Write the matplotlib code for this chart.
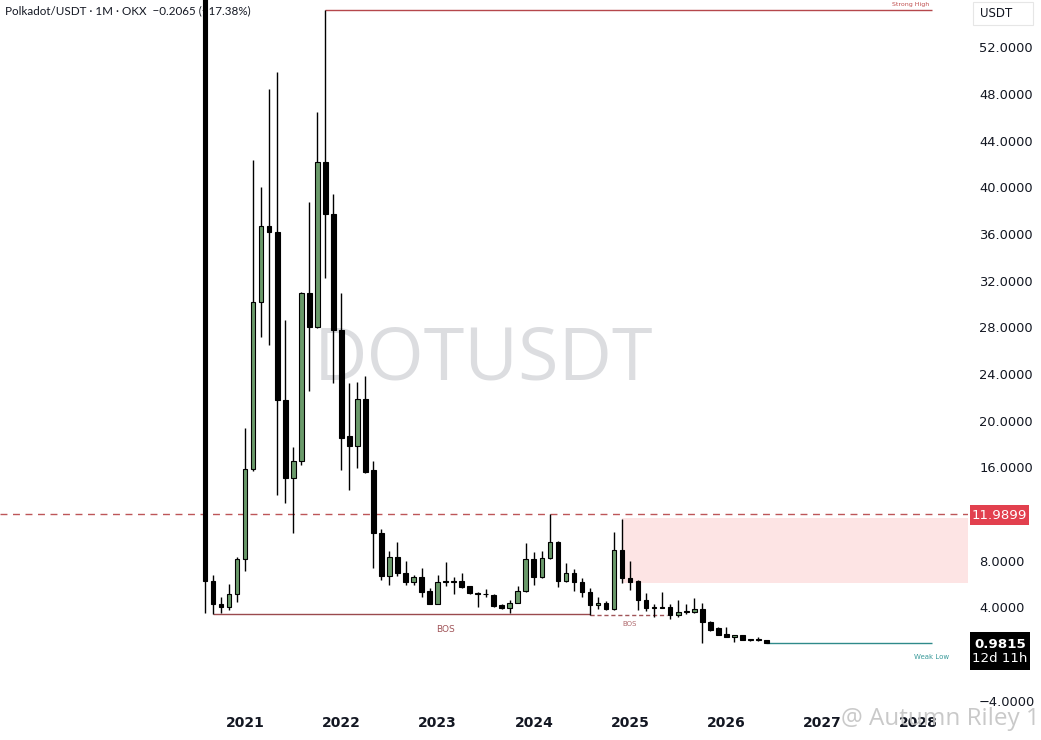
import matplotlib
matplotlib.use("Agg")
import matplotlib.pyplot as plt
from matplotlib.patches import Rectangle
import numpy as np

# ---------------- data ----------------
months = ["2020-08","2020-09","2020-10","2020-11","2020-12",
          "2021-01","2021-02","2021-03","2021-04","2021-05","2021-06","2021-07","2021-08","2021-09","2021-10","2021-11","2021-12",
          "2022-01","2022-02","2022-03","2022-04","2022-05","2022-06","2022-07","2022-08","2022-09","2022-10","2022-11","2022-12",
          "2023-01","2023-02","2023-03","2023-04","2023-05","2023-06","2023-07","2023-08","2023-09","2023-10","2023-11","2023-12",
          "2024-01","2024-02","2024-03","2024-04","2024-05","2024-06","2024-07","2024-08","2024-09","2024-10","2024-11","2024-12",
          "2025-01","2025-02","2025-03","2025-04","2025-05","2025-06","2025-07","2025-08","2025-09","2025-10","2025-11","2025-12",
          "2026-01","2026-02","2026-03","2026-04","2026-05","2026-06"]
opens  = [300.0, 6.26, 4.28, 4.03, 5.14,
          8.14, 15.85, 30.2, 36.7, 36.2, 21.8, 15.1, 16.5, 30.9, 28.0, 42.2, 37.7,
          27.8, 18.7, 17.8, 21.85, 15.8, 10.4, 6.7, 8.3, 6.9, 6.2, 6.6, 5.4,
          4.3, 6.26, 6.17, 6.26, 5.8, 5.2, 5.17, 5.05, 4.2, 3.95, 4.4, 5.4,
          8.1, 6.6, 8.2, 9.6, 6.26, 6.9, 6.2, 5.3, 4.2, 4.4, 3.85, 8.9,
          6.5, 6.26, 4.6, 3.95, 4.0, 4.0, 3.35, 3.6, 3.6, 3.85, 2.75, 2.2,
          1.7, 1.45, 1.6, 1.2, 1.2, 1.188]
highs  = [300.0, 6.77, 4.9, 6.0, 8.3,
          19.4, 42.3, 40.0, 48.4, 49.9, 28.6, 17.7, 31.0, 38.7, 46.4, 55.2, 39.4,
          30.9, 23.2, 23.3, 23.8, 16.5, 10.7, 8.8, 9.6, 8.0, 6.8, 7.4, 5.65,
          6.8, 7.9, 6.6, 6.95, 5.85, 5.3, 5.6, 5.1, 4.25, 4.6, 5.8, 9.5,
          8.75, 8.8, 11.9899, 9.7, 7.8, 7.3, 6.5, 5.65, 4.9, 4.5, 10.45, 11.6,
          8.0, 6.3, 5.2, 4.3, 5.3, 4.3, 4.6, 4.3, 4.8, 4.4, 2.8, 2.3,
          2.3, 1.65, 1.65, 1.3, 1.45, 1.2]
lows   = [3.5, 3.43, 3.5, 3.77, 4.46,
          7.1, 15.7, 27.2, 26.5, 13.6, 12.9, 10.4, 16.2, 22.5, 27.9, 32.2, 23.2,
          15.8, 14.05, 15.9, 15.5, 7.4, 6.3, 5.9, 6.7, 5.9, 5.9, 4.9, 4.25,
          4.25, 5.8, 5.1, 5.65, 5.1, 4.0, 4.9, 4.05, 3.85, 3.5, 4.35, 5.35,
          5.9, 6.55, 8.1, 5.7, 6.2, 5.4, 4.9, 3.35, 3.85, 3.8, 3.75, 6.1,
          5.5, 3.8, 3.7, 3.2, 3.9, 3.0, 3.2, 3.4, 3.55, 0.95, 2.0, 1.6,
          1.45, 1.05, 1.2, 1.15, 1.15, 0.95]
closes = [6.26, 4.28, 4.03, 5.14, 8.14,
          15.85, 30.2, 36.7, 36.2, 21.8, 15.1, 16.5, 30.9, 28.0, 42.2, 37.7, 27.8,
          18.5, 17.8, 21.85, 15.6, 10.4, 6.7, 8.3, 6.9, 6.2, 6.6, 5.3, 4.3,
          6.2, 6.17, 6.22, 5.75, 5.2, 5.17, 5.1, 4.1, 3.95, 4.4, 5.4, 8.1,
          6.6, 8.2, 9.6, 6.26, 6.9, 6.2, 5.3, 4.2, 4.4, 3.85, 8.9, 6.5,
          6.2, 4.6, 3.9, 4.0, 3.97, 3.35, 3.6, 3.62, 3.85, 2.75, 2.05, 1.6,
          1.45, 1.6, 1.2, 1.22, 1.188, 0.9815]

year_labels = ["2021", "2022", "2023", "2024", "2025", "2026", "2027", "2028"]
price_ticks = [52, 48, 44, 40, 36, 32, 28, 24, 20, 16, 8, 4, -4]

strong_high = 55.2
bos_level_1 = 3.43
bos_level_2 = 3.35
weak_low = 0.95
prev_high_line = 11.9899
zone_low, zone_high = 6.05, 11.65
last_price = 0.9815

# ---------------- figure ----------------
W, H = 1041, 740
fig = plt.figure(figsize=(W / 100, H / 100), dpi=100)
ax_right_px = 968
ax_bottom_px = 708
ax = fig.add_axes([0, (H - ax_bottom_px) / H, ax_right_px / W, ax_bottom_px / H])

x = np.arange(len(months))
o = np.array(opens); h = np.array(highs); l = np.array(lows); c = np.array(closes)

x0_px, px_per_month = 205.0, 8.02
xmin = -x0_px / px_per_month
xmax = (ax_right_px - x0_px) / px_per_month
ax.set_xlim(xmin, xmax)
ax.set_ylim(-4.63, 56.04)

up = c >= o
green = "#6a9a6a"
ax.vlines(x, l, h, color="black", linewidth=1.0, zorder=3)
bottoms = np.minimum(o, c)
heights = np.maximum(np.abs(c - o), 0.07)
ax.bar(x[up], heights[up], bottom=bottoms[up], width=0.58, color=green,
       edgecolor="black", linewidth=0.8, zorder=4)
ax.bar(x[~up], heights[~up], bottom=bottoms[~up], width=0.58, color="black",
       edgecolor="black", linewidth=0.8, zorder=4)

# watermark
ax.text(34.7, 23.5, "DOTUSDT", fontsize=53, color="#dcdde0", ha="center", va="baseline",
        zorder=1, family="Open Sans")

# supply zone
zone_start = 52
ax.add_patch(Rectangle((zone_start, zone_low), xmax - zone_start, zone_high - zone_low,
                       facecolor="#fde4e4", edgecolor="none", zorder=1.5))

# dashed level line
ax.axhline(prev_high_line, color="#bd5658", linewidth=1.0, linestyle=(0, (5, 4)), zorder=2)

# strong high
line_end = 90.6
ax.hlines(strong_high, 15, line_end, color="#b5474b", linewidth=1.0, zorder=2)
ax.text(line_end - 0.3, 55.45, "Strong High", fontsize=4.5, color="#c05050",
        ha="right", va="bottom", zorder=2)

# BOS lines
ax.hlines(bos_level_1, 1, 48, color="#9a4a4e", linewidth=1.0, zorder=2)
ax.text(30, 2.1, "BOS", fontsize=6.5, color="#a05458", ha="center", va="center", zorder=2)
ax.hlines(bos_level_2, 48, 57.6, color="#a05458", linewidth=1.0, linestyles=[(0, (3, 2))], zorder=2)
ax.text(52.9, 2.55, "BOS", fontsize=5, color="#b06a6e", ha="center", va="center", zorder=2)

# weak low
ax.hlines(weak_low, 70, line_end, color="#2f8a8a", linewidth=1.0, zorder=2)
ax.text(line_end, -0.25, "Weak Low", fontsize=5, color="#3a9a9a", ha="center", va="center", zorder=2)

# title
ax.text(5 / ax_right_px, 1 - 14 / ax_bottom_px,
        "Polkadot/USDT · 1M · OKX  \u22120.2065 (\u221217.38%)",
        transform=ax.transAxes, fontsize=8.4, color="#131722", ha="left", va="baseline",
        zorder=2, family="Lato")

# axes styling
for s in ax.spines.values():
    s.set_visible(False)
ax.set_xticks([5 + 12 * i for i in range(len(year_labels))])
ax.set_xticklabels(year_labels, fontsize=10, fontweight="bold", color="#131722")
ax.tick_params(axis="x", length=0, pad=6)
ax.yaxis.tick_right()
ax.set_yticks(price_ticks)
ax.set_yticklabels([f"{v:.4f}" if v >= 0 else f"\u2212{abs(v):.4f}" for v in price_ticks],
                   fontsize=9.4, color="#131722")
ax.tick_params(axis="y", length=0, pad=8)
ax.set_facecolor("white")

# price labels on scale
def px2fig(px, py):
    return px / W, 1 - py / H

fig.patches.append(Rectangle(px2fig(970, 525), 59 / W, 20 / H, transform=fig.transFigure,
                             facecolor="#e2404e", edgecolor="none", zorder=5))
fig.text(*px2fig(999.5, 515.5), "11.9899", color="white", fontsize=9.6, ha="center", va="center", zorder=6)

fig.patches.append(Rectangle(px2fig(970, 670), 60 / W, 38 / H, transform=fig.transFigure,
                             facecolor="black", edgecolor="none", zorder=5))
fig.text(*px2fig(1000, 644), f"{last_price:.4f}", color="white", fontsize=9.6, ha="center",
         va="center", zorder=6, fontweight="bold")
fig.text(*px2fig(1000, 659), "12d 11h", color="white", fontsize=9.6, ha="center",
         va="center", zorder=6)

fig.patches.append(Rectangle(px2fig(973, 25), 60 / W, 23 / H, transform=fig.transFigure,
                             facecolor="white", edgecolor="#e6e6e6", linewidth=0.8, zorder=5))
fig.text(*px2fig(996, 13.5), "USDT", color="#131722", fontsize=8.5, ha="center", va="center", zorder=6)

# platform watermark
fig.text(*px2fig(1040, 725), "@ Autumn Riley 1", color="#c4c4c4", fontsize=17.5,
         ha="right", va="baseline", zorder=6, alpha=0.9, family="Open Sans")

fig.savefig("out.png", dpi=100, facecolor="white")
